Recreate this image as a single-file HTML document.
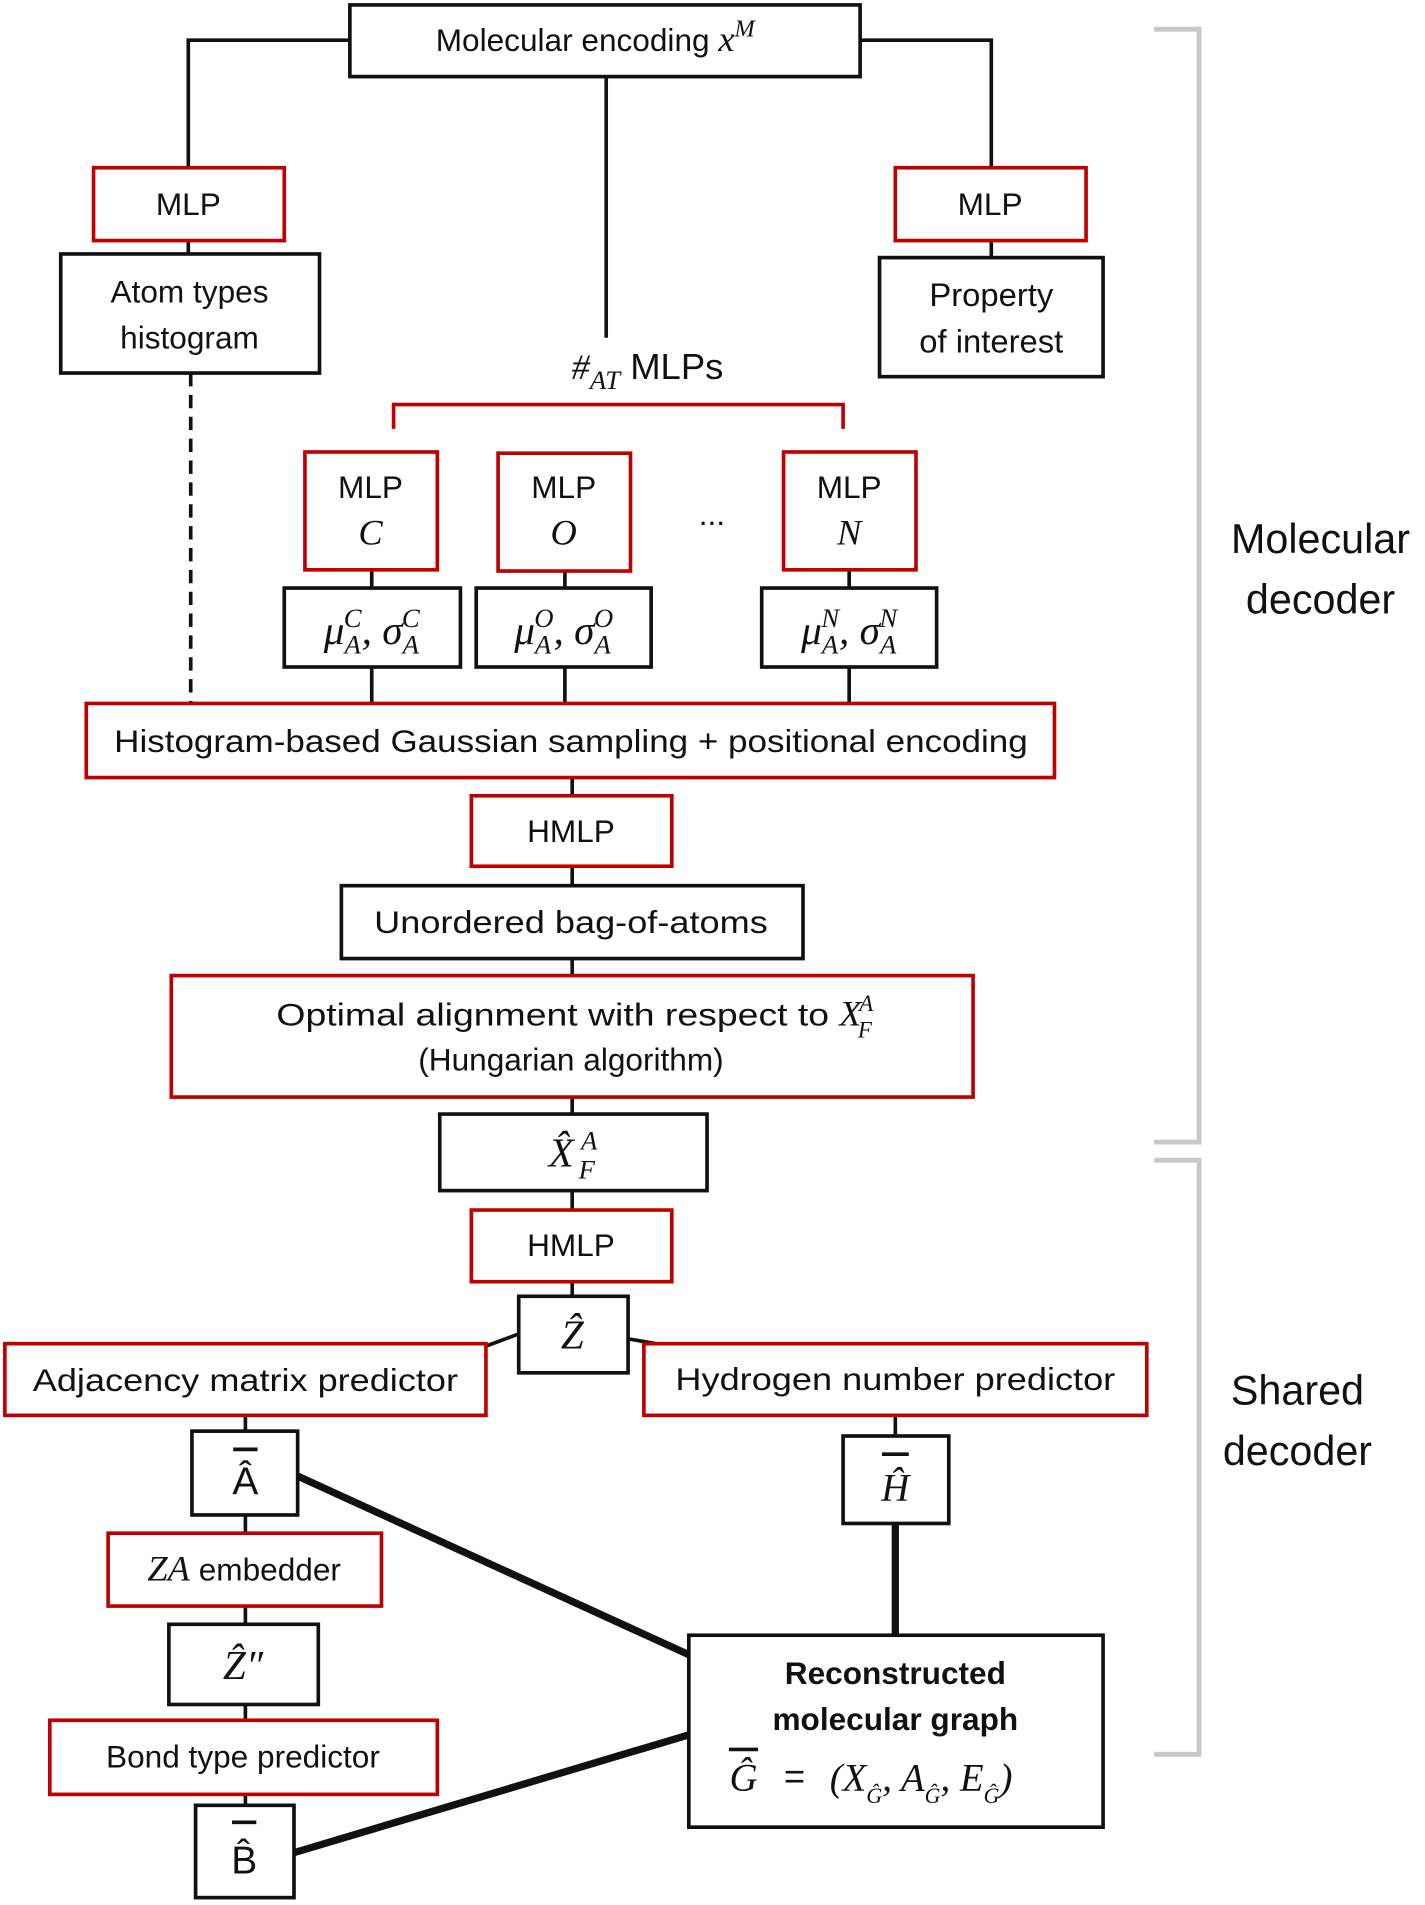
<!DOCTYPE html>
<html><head><meta charset="utf-8"><style>
html,body{margin:0;padding:0;background:#fff}
svg{display:block}
text{font-family:"Liberation Sans",sans-serif;fill:#111}
.m{font-family:"Liberation Serif",serif;font-style:italic}
.b{fill:none;stroke:#111;stroke-width:3}
.r{fill:none;stroke:#c00000;stroke-width:3}
.l{stroke:#111;stroke-width:3;fill:none}
.t{stroke:#111;stroke-width:6;fill:none}
.g{stroke:#c8c8c8;stroke-width:4;fill:none}
</style></head><body>
<svg width="1425" height="1905" viewBox="0 0 1173 1568" xmlns="http://www.w3.org/2000/svg">
<path class="l" d="M288 33H155V138M708 33H816V138M499 63V278"/>
<path class="l" d="M155 198V209M816 198V212"/>
<path class="l" d="M157 307V578" stroke-dasharray="11,7"/>
<path class="r" d="M324 353V333H694V353"/>
<path class="l" d="M306 469V484M465 470V484M699 469V484M306 549V579M465 549V579M699 549V579"/>
<path class="l" d="M471 640V655M471 713V729M471 789V803M471 903V917M471 980V996M471 1055V1067"/>
<path class="l" d="M400 1108L427 1098M517 1102L540 1106"/>
<path class="l" d="M202 1165V1178M202 1247V1262M202 1322V1337M202 1403V1416M202 1477V1486M737 1165V1182"/>
<path class="t" d="M737 1254V1346M245 1215L567 1362M242 1525L567 1428"/>
<path class="g" d="M950 24H987V940H950M950 955H987V1444H950"/>
<rect class="b" x="288" y="4" width="420" height="59"/>
<rect class="r" x="77" y="138" width="157" height="60"/>
<rect class="r" x="737" y="138" width="157" height="60"/>
<rect class="b" x="50" y="209" width="213" height="98"/>
<rect class="b" x="724" y="212" width="184" height="98"/>
<rect class="r" x="251" y="372" width="109" height="97"/>
<rect class="r" x="410" y="373" width="109" height="97"/>
<rect class="r" x="645" y="372" width="109" height="97"/>
<rect class="b" x="234" y="484" width="145" height="65"/>
<rect class="b" x="392" y="484" width="144" height="65"/>
<rect class="b" x="627" y="484" width="144" height="65"/>
<rect class="r" x="71" y="579" width="797" height="61"/>
<rect class="r" x="388" y="655" width="165" height="58"/>
<rect class="b" x="281" y="729" width="380" height="60"/>
<rect class="r" x="141" y="803" width="660" height="100"/>
<rect class="b" x="362" y="917" width="220" height="63"/>
<rect class="r" x="388" y="996" width="165" height="59"/>
<rect class="b" x="427" y="1067" width="90" height="63"/>
<rect class="r" x="4" y="1106" width="396" height="59"/>
<rect class="r" x="530" y="1106" width="414" height="59"/>
<rect class="b" x="158" y="1178" width="87" height="69"/>
<rect class="b" x="694" y="1182" width="87" height="72"/>
<rect class="r" x="89" y="1262" width="225" height="60"/>
<rect class="b" x="139" y="1337" width="123" height="66"/>
<rect class="r" x="41" y="1416" width="319" height="61"/>
<rect class="b" x="161" y="1486" width="81" height="76"/>
<rect class="b" x="567" y="1346" width="341" height="158"/>
<g font-size="26" text-anchor="middle">
<text x="490" y="42">Molecular encoding <tspan class="m" font-size="30">x</tspan><tspan class="m" font-size="20" dy="-12">M</tspan></text>
<text x="155" y="177">MLP</text>
<text x="815" y="177">MLP</text>
<text x="156" y="249">Atom types</text>
<text x="156" y="287">histogram</text>
<text x="816" y="252" font-size="27">Property</text>
<text x="816" y="290" font-size="27">of interest</text>
<text x="533" y="312" font-size="30"><tspan class="m">#</tspan><tspan class="m" font-size="22" dy="8">AT</tspan><tspan dy="-8"> MLPs</tspan></text>
<text x="305" y="410">MLP</text><text x="305" y="448" class="m" font-size="30">C</text>
<text x="464" y="410">MLP</text><text x="464" y="448" class="m" font-size="30">O</text>
<text x="586" y="432">...</text>
<text x="699" y="410">MLP</text><text x="699" y="448" class="m" font-size="30">N</text>
<text x="306" y="530" class="m" font-size="34">μ<tspan font-size="22" dy="8">A</tspan><tspan font-size="22" dx="-14" dy="-22">C</tspan><tspan dy="14">, σ</tspan><tspan font-size="22" dy="8">A</tspan><tspan font-size="22" dx="-14" dy="-22">C</tspan></text>
<text x="464" y="530" class="m" font-size="34">μ<tspan font-size="22" dy="8">A</tspan><tspan font-size="22" dx="-14" dy="-22">O</tspan><tspan dy="14">, σ</tspan><tspan font-size="22" dy="8">A</tspan><tspan font-size="22" dx="-14" dy="-22">O</tspan></text>
<text x="699" y="530" class="m" font-size="34">μ<tspan font-size="22" dy="8">A</tspan><tspan font-size="22" dx="-14" dy="-22">N</tspan><tspan dy="14">, σ</tspan><tspan font-size="22" dy="8">A</tspan><tspan font-size="22" dx="-14" dy="-22">N</tspan></text>
<text x="470" y="619" textLength="752" lengthAdjust="spacingAndGlyphs">Histogram-based Gaussian sampling + positional encoding</text>
<text x="470" y="693">HMLP</text>
<text x="470" y="768" textLength="324" lengthAdjust="spacingAndGlyphs">Unordered bag-of-atoms</text>
<text x="455" y="844" textLength="455" lengthAdjust="spacingAndGlyphs">Optimal alignment with respect to</text>
<text x="700" y="844" class="m" font-size="30">X</text><text x="713" y="832" class="m" font-size="19">A</text><text x="712" y="854" class="m" font-size="19">F</text>
<text x="470" y="881">(Hungarian algorithm)</text>
<text x="462" y="960" class="m" font-size="34">X̂</text><text x="485" y="946" class="m" font-size="22">A</text><text x="483" y="970" class="m" font-size="22">F</text>
<text x="470" y="1034">HMLP</text>
<text x="471" y="1110" class="m" font-size="34">Ẑ</text>
<text x="202" y="1145" textLength="350" lengthAdjust="spacingAndGlyphs">Adjacency matrix predictor</text>
<text x="737" y="1144" textLength="362" lengthAdjust="spacingAndGlyphs">Hydrogen number predictor</text>
<text x="202" y="1230" font-family="Liberation Serif" font-size="32">Â</text>
<path class="l" d="M192 1193H212" stroke-width="2"/>
<text x="737" y="1235" class="m" font-size="32">Ĥ</text>
<path class="l" d="M726 1197H748" stroke-width="2"/>
<text x="201" y="1301"><tspan class="m" font-size="30">ZA</tspan> embedder</text>
<text x="200" y="1382" class="m" font-size="34">Ẑ″</text>
<text x="200" y="1455">Bond type predictor</text>
<text x="201" y="1542" font-family="Liberation Serif" font-size="32">B̂</text>
<path class="l" d="M191 1500H211" stroke-width="2"/>
<text x="737" y="1386" font-weight="bold">Reconstructed</text>
<text x="737" y="1424" font-weight="bold">molecular graph</text>
</g>
<text x="612" y="1474" class="m" font-size="32" text-anchor="middle">Ĝ</text>
<path class="l" d="M600 1440H624" stroke-width="2"/>
<text x="654" y="1472" font-size="30" text-anchor="middle" font-family="Liberation Serif">=</text>
<text x="683" y="1474" class="m" font-size="32">(X<tspan font-size="18" dy="10">Ĝ</tspan><tspan dy="-10">, A</tspan><tspan font-size="18" dy="10">Ĝ</tspan><tspan dy="-10">, E</tspan><tspan font-size="18" dy="10">Ĝ</tspan><tspan dy="-10">)</tspan></text>
<g font-size="34" text-anchor="middle">
<text x="1087" y="455">Molecular</text>
<text x="1087" y="505">decoder</text>
<text x="1068" y="1156">Shared</text>
<text x="1068" y="1206">decoder</text>
</g>
</svg>
</body></html>
